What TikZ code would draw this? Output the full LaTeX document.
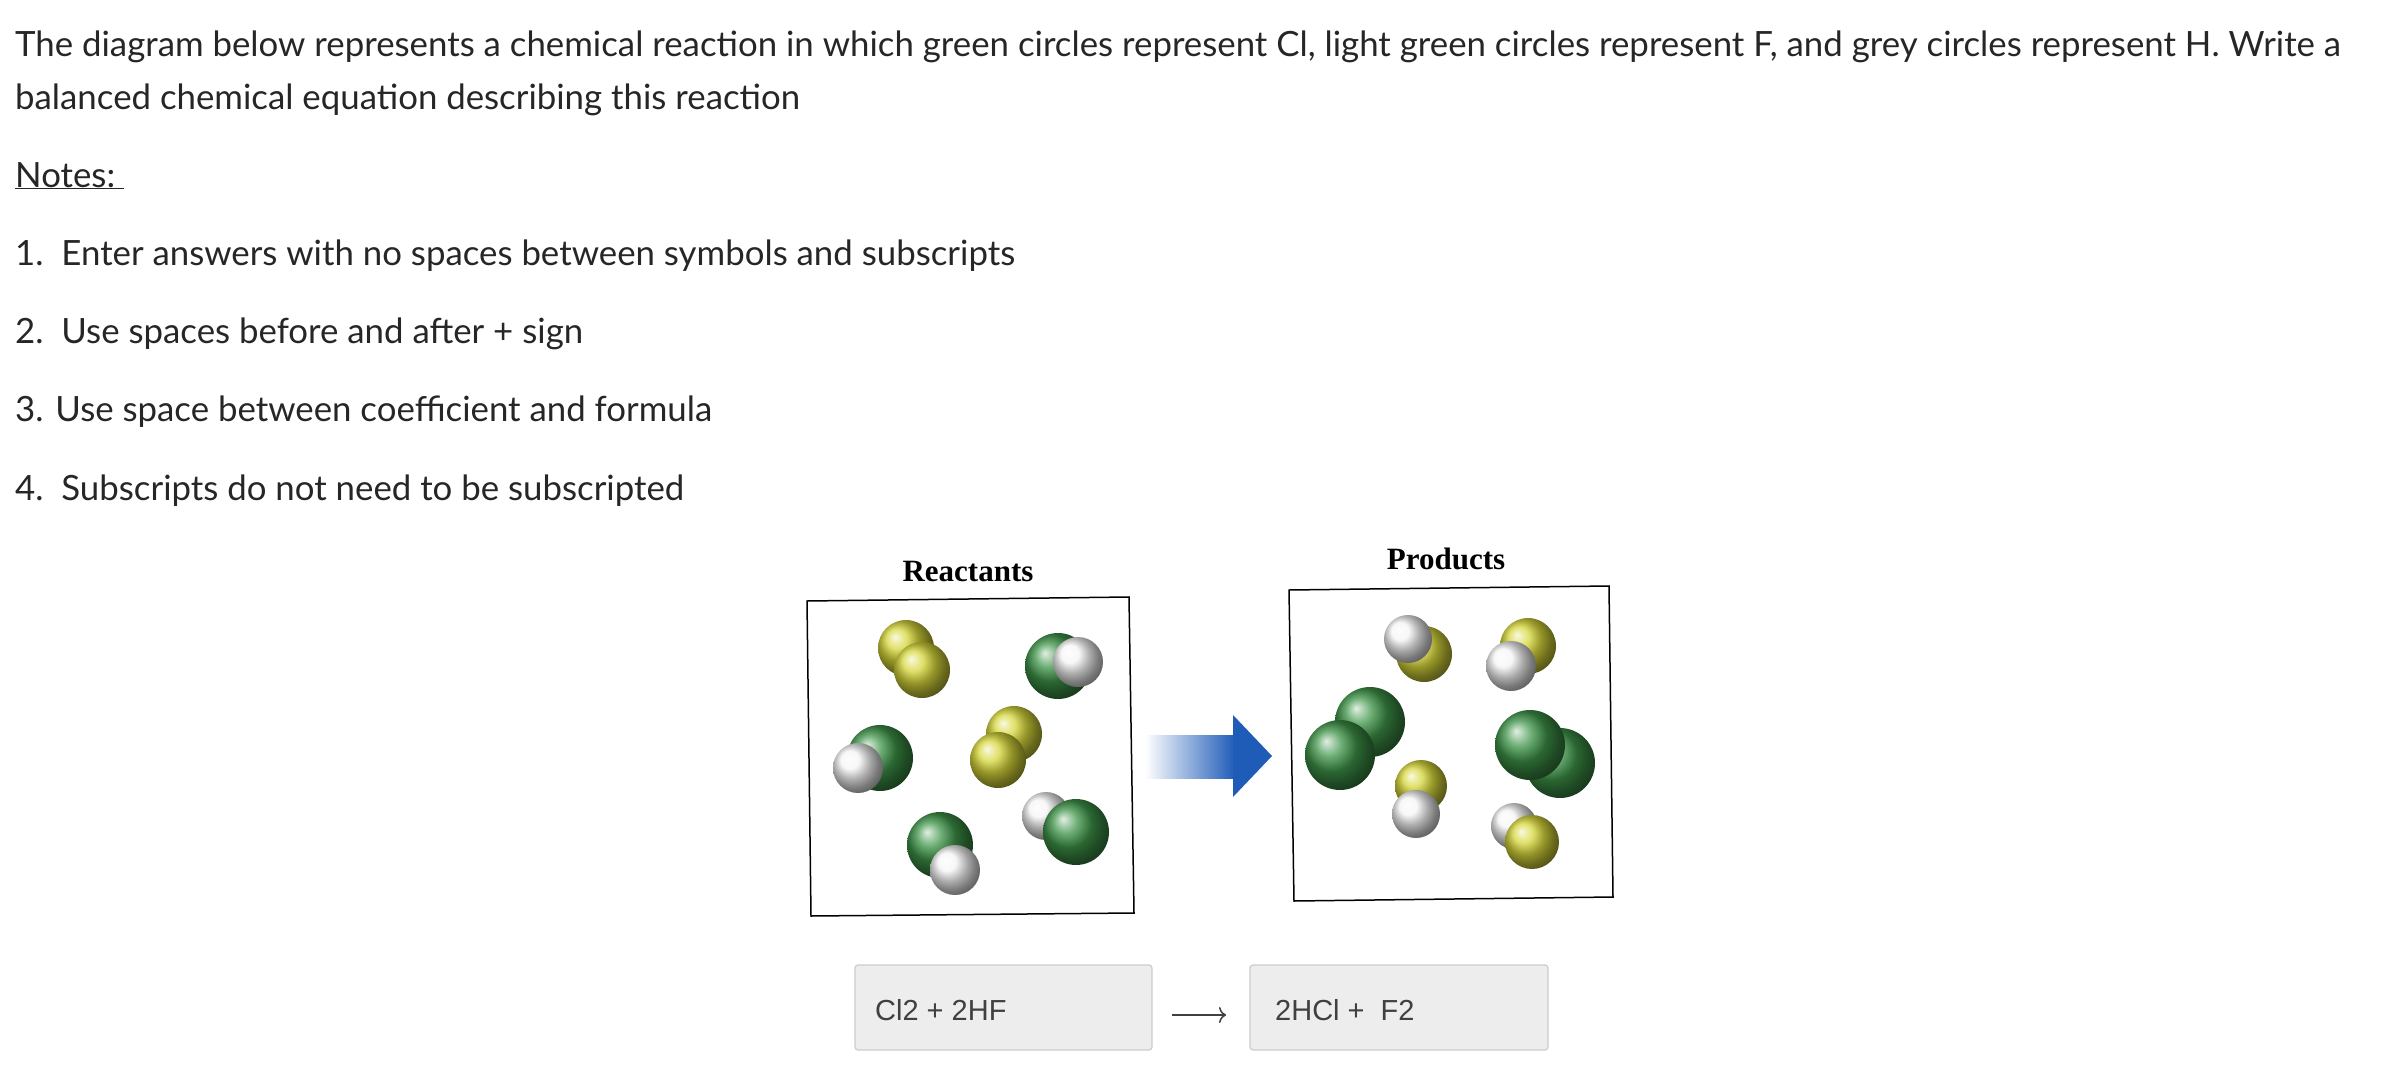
\documentclass[tikz,border=0pt]{standalone}
\usetikzlibrary{arrows.meta}
\usepackage{fontspec}
\setmainfont{Lato}
\newfontfamily\serifb{Liberation Serif}
\newfontfamily\arialf{Liberation Sans}
\definecolor{clg}{HTML}{3E9448}
\definecolor{fy}{HTML}{D6D63A}
\definecolor{ab}{HTML}{1F5CB8}
\begin{document}
\begin{tikzpicture}[x=1pt,y=-1pt,
  txt/.style={anchor=base west,inner sep=0,font=\fontsize{34.8}{40}\selectfont,text=black!85},
  ttl/.style={anchor=base,inner sep=0,font=\serifb\bfseries\fontsize{31}{36}\selectfont},
  cl/.style={ball color=clg},
  ff/.style={ball color=fy},
  hh/.style={ball color=white!92!gray},
  eqb/.style={draw=black!20,fill=black!7,rounded corners=3pt,line width=1.2pt},
  eqt/.style={anchor=base west,inner sep=0,font=\arialf\fontsize{29}{34}\selectfont,text=black!75}]
\useasboundingbox (0,0) rectangle (2386,1092);
\node[txt] (l1) at (15,56) {The diagram below represents a chemical reaction in which green circles represent Cl, light green circles represent F, and grey circles represent H. Write a};
\node[txt] (l2) at (15,109) {balanced chemical equation describing this reaction};
\node[txt] (nt) at (15,187) {\underline{Notes:\ }};
\node[txt] (n1) at (15,265) {1.\ \ Enter answers with no spaces between symbols and subscripts};
\node[txt] (n2) at (15,343) {2.\ \ Use spaces before and after + sign};
\node[txt] (n3) at (15,421) {3. Use space between coefficient and formula};
\node[txt] (n4) at (15,500) {4.\ \ Subscripts do not need to be subscripted};
% titles
\node[ttl] (rt) at (968,581) {Reactants};
\node[ttl] (pt) at (1446,569) {Products};
% boxes
\draw[line width=1.5pt] (807,601) -- (1129,597) -- (1134,913) -- (811,916) -- cycle;
\draw[line width=1.5pt] (1289,590) -- (1609,586) -- (1613,897) -- (1294,901) -- cycle;
% arrow
\shade[left color=white,right color=ab] (1145,735) rectangle (1235,778);
\fill[ab] (1233,715) -- (1272,756) -- (1233,797) -- cycle;
% reactants
\shade[ff] (906,648) circle (28); \shade[ff] (922,670) circle (28);
\shade[cl] (1058,666) circle (33); \shade[hh] (1078,662) circle (25);
\shade[cl] (880,758) circle (33); \shade[hh] (858,768) circle (25);
\shade[ff] (1014,734) circle (28); \shade[ff] (998,760) circle (28);
\shade[cl] (940,845) circle (33); \shade[hh] (955,870) circle (25);
\shade[hh] (1046,816) circle (24); \shade[cl] (1076,832) circle (33);
% products
\shade[ff] (1424,654) circle (28); \shade[hh] (1408,639) circle (24);
\shade[ff] (1528,646) circle (28); \shade[hh] (1511,666) circle (25);
\shade[cl] (1370,722) circle (35); \shade[cl] (1340,755) circle (35);
\shade[cl] (1560,763) circle (35); \shade[cl] (1530,745) circle (35);
\shade[ff] (1421,786) circle (26); \shade[hh] (1416,814) circle (24);
\shade[hh] (1514,826) circle (23); \shade[ff] (1532,842) circle (27);
% equation
\node[eqb,minimum width=297,minimum height=85] (eq1) at (1003.5,1007.5) {};
\node[eqb,minimum width=298,minimum height=85] (eq2) at (1399,1007.5) {};
\node[eqt] (e1) at (875,1020) {Cl2 + 2HF};
\node[eqt] (e2) at (1275,1020) {2HCl +\ \ F2};
\coordinate (a1) at (1172,1015); \coordinate (a2) at (1226,1015);
\draw[black!75,line width=1.5pt,-{To[length=7pt,width=16pt]}] (a1) -- (a2);
\end{tikzpicture}
\end{document}
